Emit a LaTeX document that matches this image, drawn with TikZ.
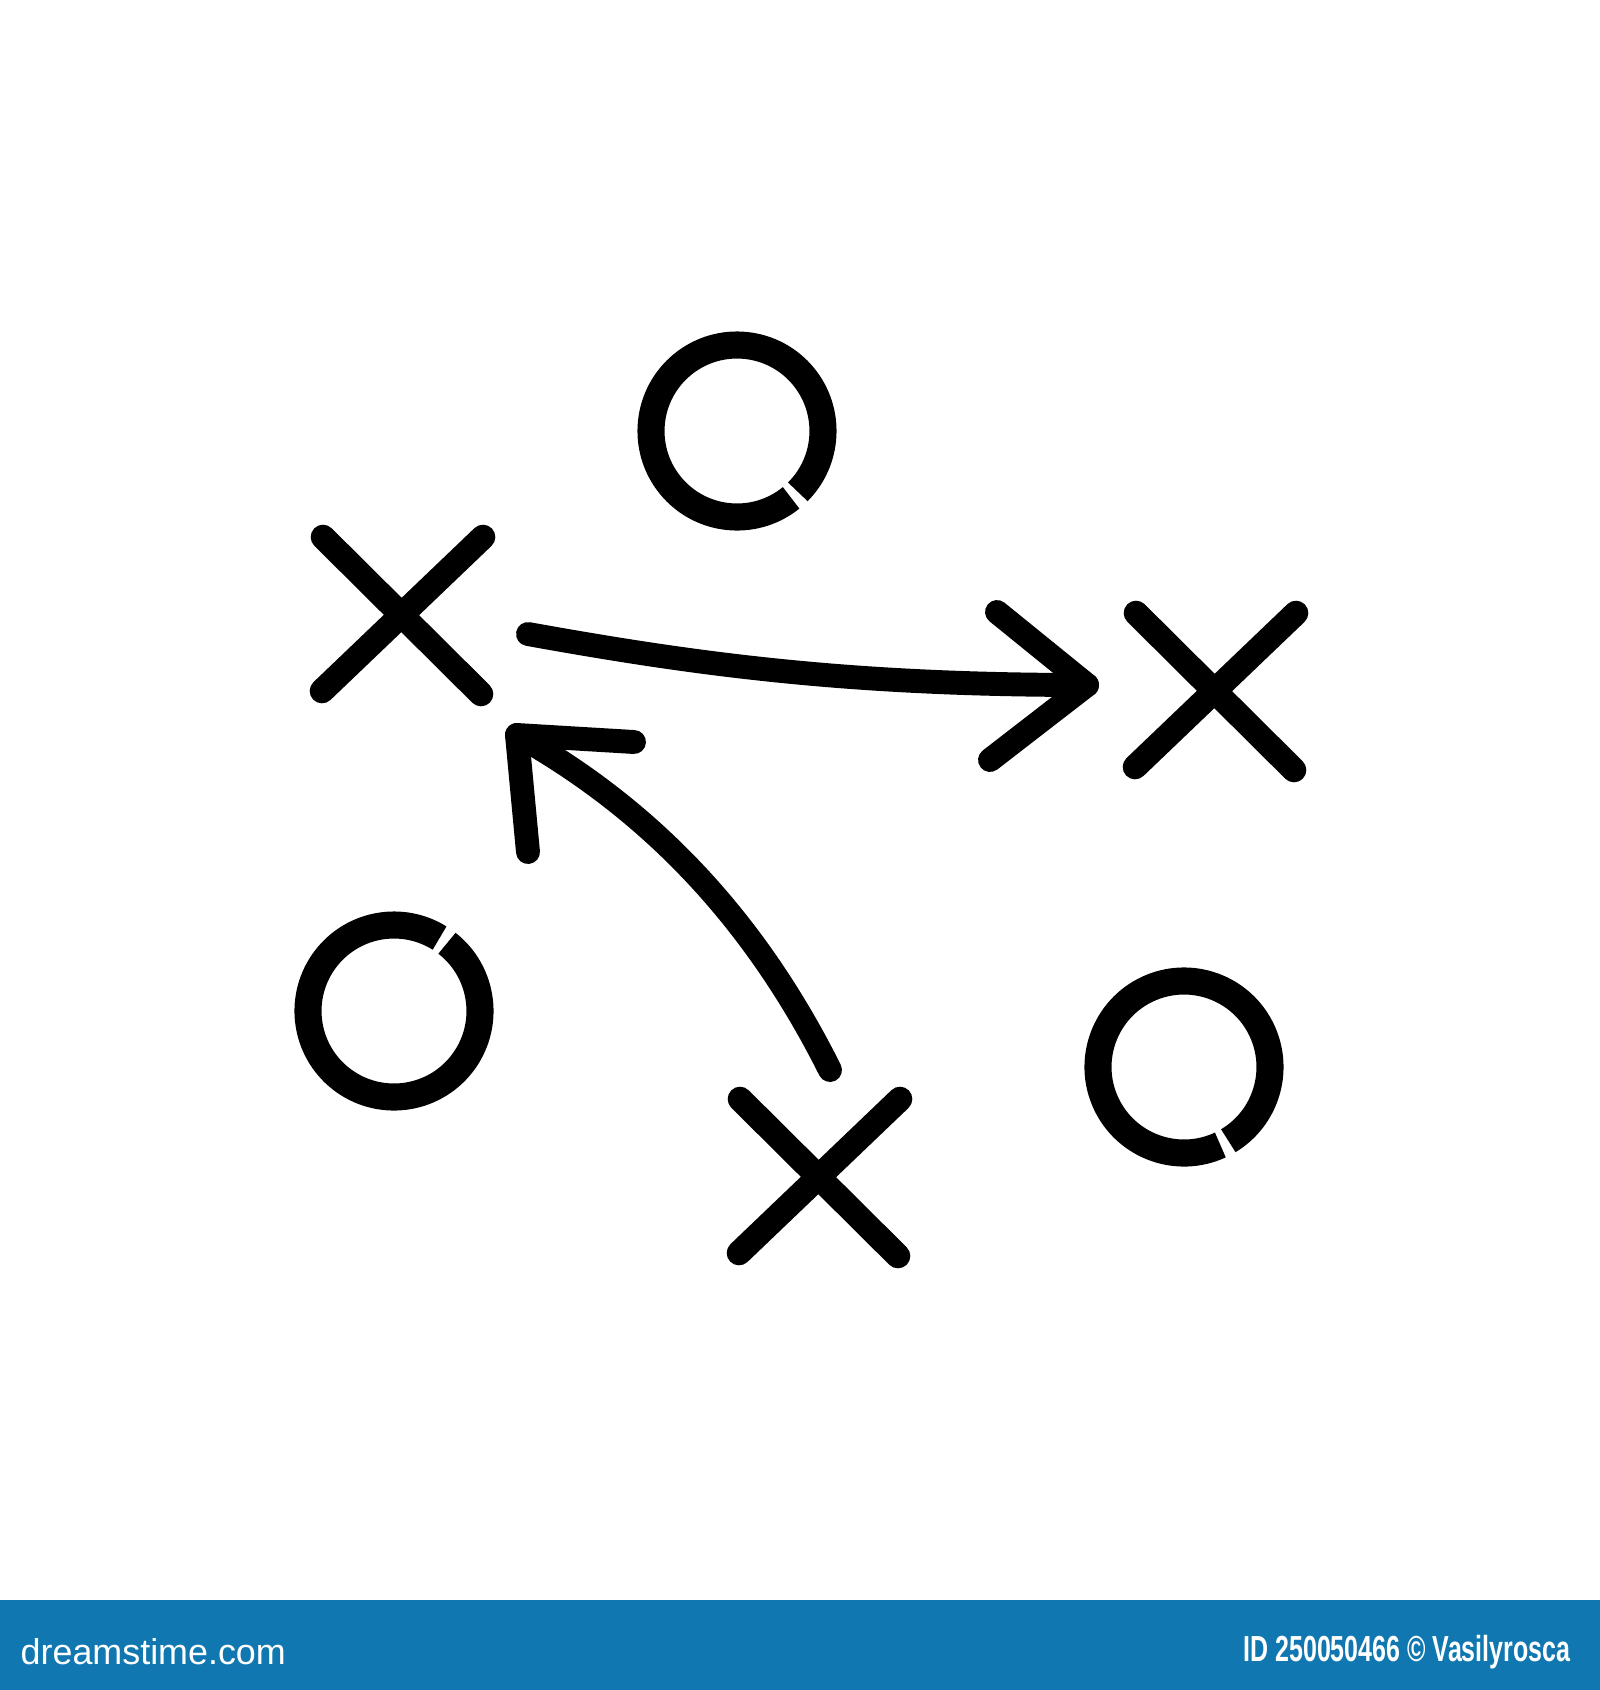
\documentclass[tikz,border=0pt]{standalone}
\usepackage{fontspec}
\newfontfamily\bannerfont{Liberation Sans}
\definecolor{banner}{RGB}{17,119,176}
\begin{document}
\begin{tikzpicture}[x=0.01cm,y=-0.01cm,
    brush/.style={line width=6.8pt,line cap=round,line join=round}]
    \useasboundingbox (0,0) rectangle (1600,1690);
    % players
    \coordinate (o1) at (737,431);
    \coordinate (o2) at (394,1011);
    \coordinate (o3) at (1184,1067);
    \coordinate (x1) at (402,615);
    \coordinate (x2) at (1215,691);
    \coordinate (x3) at (819,1177);
    \foreach \o/\g in {o1/48,o2/-55,o3/62}
    { \draw[brush,line cap=butt,line width=7.7pt] ([shift={(\g+3:86)}]\o)
        arc[start angle=\g+3, end angle=\g+357, radius=86]; }
    \foreach \x in {x1,x2,x3}
    { \draw[brush,line width=7pt] ([shift={(-79,-78)}]\x) -- ([shift={(79,79)}]\x);
      \draw[brush,line width=7pt] ([shift={(81,-78)}]\x) -- ([shift={(-80,76)}]\x); }
    % moves
    \coordinate (a1s) at (528,634);
    \coordinate (a1e) at (1087,685);
    \draw[brush] (a1s) .. controls (700,665) and (850,685) .. (a1e);
    \draw[brush] (997,612) -- (a1e) -- (990,760);
    \coordinate (a2s) at (830,1070);
    \coordinate (a2e) at (517,735);
    \draw[brush] (a2s) .. controls (760,930) and (660,815) .. (a2e);
    \draw[brush] (634,742) -- (a2e) -- (528,852);
    % banner
    \fill[banner] (0,1600) rectangle (1600,1690);
    \node[anchor=west,text=white,inner sep=0,font=\bannerfont\fontsize{10.2}{12}\selectfont] (site) at (20,1652) {dreamstime.com};
    \node[anchor=east,text=white,inner sep=0,font=\bannerfont\bfseries\fontsize{10.3}{12}\selectfont] (credit) at (1571,1652) {\scalebox{0.69}[1]{ID 250050466 © Vasilyrosca}};
\end{tikzpicture}
\end{document}
